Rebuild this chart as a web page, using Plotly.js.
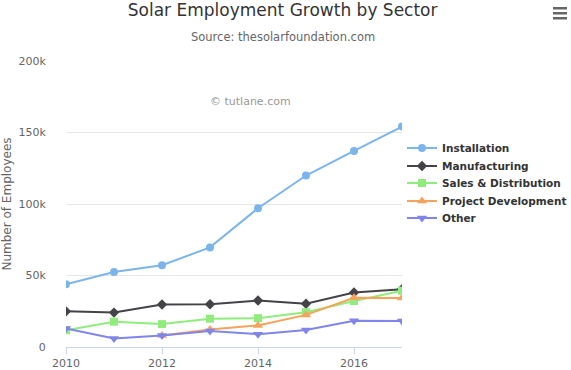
<!DOCTYPE html>
<html><head><meta charset="utf-8">
<script src="https://cdn.plot.ly/plotly-3.0.1.min.js"></script>
<style>html,body{margin:0;padding:0;background:#fff}#c{width:571px;height:370px}</style>
</head><body><div id="c"></div>
<script>
const years = [2010, 2011, 2012, 2013, 2014, 2015, 2016, 2017];
const installation = [43934, 52503, 57177, 69658, 97031, 119931, 137133, 154175];
const manufacturing = [24916, 24064, 29742, 29851, 32490, 30282, 38121, 40434];
const salesDistribution = [11744, 17722, 16005, 19771, 20185, 24377, 32147, 39387];
const projectDevelopment = [null, null, 7988, 12169, 15112, 22452, 34400, 34227];
const other = [12908, 5948, 8105, 11248, 8989, 11816, 18274, 18111];
const seriesNames = ['Installation', 'Manufacturing', 'Sales & Distribution', 'Project Development', 'Other'];
const yTickVals = [0, 50000, 100000, 150000, 200000];
const yTickText = ['0', '50k', '100k', '150k', '200k'];

const colors = ['#7cb5ec', '#434348', '#90ed7d', '#f7a35c', '#8085e9'];
const symbols = ['circle', 'diamond', 'square', 'triangle-up', 'triangle-down'];
const sizes = [8, 8, 8, 9, 9];
const data = [installation, manufacturing, salesDistribution, projectDevelopment, other];
const legendIds = ['legend', 'legend2', 'legend3', 'legend4', 'legend5'];
const legendRowPx = [148, 166, 183, 201, 218];

const traces = data.map((d, i) => ({
  x: years, y: d, name: seriesNames[i], type: 'scatter', mode: 'lines+markers',
  line: {color: colors[i], width: 2},
  marker: {color: colors[i], symbol: symbols[i], size: sizes[i]},
  connectgaps: false, legend: legendIds[i]
}));

const font = 'DejaVu Sans, Verdana, sans-serif';
const layout = {
  width: 571, height: 370,
  margin: {l: 66, r: 169, t: 61, b: 23, autoexpand: false},
  paper_bgcolor: '#fff', plot_bgcolor: '#fff',
  font: {family: font, color: '#666', size: 11},
  title: {text: 'Solar Employment Growth by Sector', font: {family: font, size: 17, color: '#333'},
          xref: 'container', x: 0.495, yref: 'container', y: 0.973, yanchor: 'middle'},
  xaxis: {range: [2010, 2017], tickvals: [2010, 2012, 2014, 2016], ticks: 'outside', ticklen: 6,
          tickcolor: '#ccd6eb', showline: true, linecolor: '#ccd6eb', linewidth: 1, showgrid: false,
          zeroline: false, tickfont: {size: 11, color: '#666'}, fixedrange: true},
  yaxis: {range: [0, 200000], tickvals: yTickVals, ticktext: yTickText, gridcolor: '#e6e6e6',
          zeroline: false, showline: false, ticks: 'outside', ticklen: 17, tickcolor: 'rgba(0,0,0,0)',
          tickfont: {size: 11, color: '#666'},
          title: {text: 'Number of Employees', font: {size: 12, color: '#666'}, standoff: 4}},
  showlegend: true,
  annotations: [
    {text: 'Source: thesolarfoundation.com', xref: 'paper', yref: 'paper', x: 0.646, y: 1.084,
     showarrow: false, font: {size: 11.5, color: '#666'}, xanchor: 'center', yanchor: 'middle'},
    {text: '© tutlane.com', xref: 'paper', yref: 'paper', x: 0.55, y: 0.86,
     showarrow: false, font: {size: 11, color: '#999'}, xanchor: 'center', yanchor: 'middle'}
  ],
  shapes: [0, 1, 2].map(k => ({type: 'rect', xref: 'paper', yref: 'paper',
     x0: (553 - 66) / 336, x1: (567 - 66) / 336,
     y0: (347 - (7 + k * 5)) / 286, y1: (347 - (9.5 + k * 5)) / 286,
     fillcolor: '#666', line: {width: 0}}))
};
legendIds.forEach((id, i) => {
  layout[id] = {x: 1.0, y: (347 - legendRowPx[i]) / 286, xanchor: 'left', yanchor: 'middle',
    font: {family: font, size: 10.5, color: '#333', weight: 'bold'},
    itemwidth: 30, bgcolor: 'rgba(0,0,0,0)', borderwidth: 0};
});
Plotly.newPlot('c', traces, layout, {displayModeBar: false, staticPlot: true});
</script></body></html>
